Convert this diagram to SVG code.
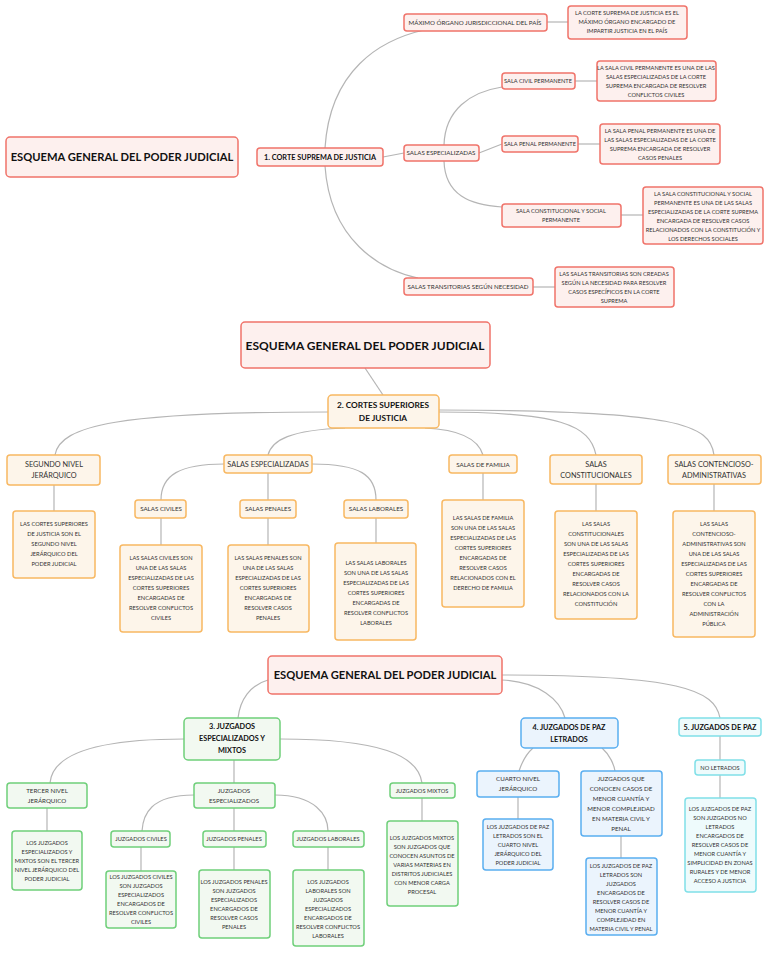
<svg xmlns="http://www.w3.org/2000/svg" width="768" height="953" viewBox="0 0 768 953">
<style>
text{font-family:Lato,"Open Sans","Liberation Sans",sans-serif;fill:#333;text-anchor:middle;font-size:5.7px}
.c path,.c line{fill:none;stroke:#b5b5b5;stroke-width:1.2}
.r{fill:#fdf0ee;stroke:#f0736a;stroke-width:1.5}
.o{fill:#fdf5ea;stroke:#f8b862;stroke-width:1.5}
.g{fill:#f2f9f1;stroke:#6fcf7a;stroke-width:1.5}
.b{fill:#ebf4fd;stroke:#5aaef0;stroke-width:1.5}
.y{fill:#eefbfc;stroke:#80e0e8;stroke-width:1.5}
.t{font-size:11.2px;font-weight:bold;fill:#111}
.m{font-size:7.3px;font-weight:bold;fill:#111}
.n{font-size:6.2px}
.s{font-size:7.3px}
</style>
<rect width="768" height="953" fill="#fff"/>
<g class="c">
<path d="M383,157 L404,153"/>
<path d="M325,148 C330,70 380,40 424,30"/>
<path d="M325,166 C330,240 380,270 418,278"/>
<path d="M547,22 L568,22"/>
<path d="M444,145 C445,110 470,92 502,87"/>
<path d="M479,153 L502,144"/>
<path d="M444,161 C445,195 470,205 502,207"/>
<path d="M575,81 L597,81"/><path d="M578,144 L600,144"/><path d="M621,215 L643,215"/><path d="M533,287 L555,287"/>
<path d="M365,368 L383,395"/>
<path d="M328,412 C120,412 60,425 55,455"/>
<path d="M345,428 C290,430 272,440 268,455"/>
<path d="M425,428 C470,430 480,445 483,455"/>
<path d="M439,412 C560,412 590,425 596,455"/>
<path d="M439,410 C680,410 710,425 714,455"/>
<path d="M224,464 C180,464 161,475 161,500"/>
<path d="M268,473 L268,500"/>
<path d="M312,464 C360,464 376,475 376,500"/>
<path d="M54,485 L54,511"/><path d="M161,518 L161,545"/><path d="M268,518 L268,545"/><path d="M376,518 L376,543"/>
<path d="M483,473 L483,500"/><path d="M596,484 L596,511"/><path d="M714,484 L714,511"/>
<path d="M268,680 C250,685 240,700 238,718"/>
<path d="M502,680 C540,682 560,700 565,718"/>
<path d="M502,675 C680,675 715,690 720,718"/>
<path d="M184,739 C80,739 52,760 50,783"/>
<path d="M234,760 L234,783"/>
<path d="M280,739 C380,739 418,755 422,783"/>
<path d="M194,795 C150,795 143,815 142,831"/>
<path d="M234,808 L234,831"/>
<path d="M275,795 C315,795 328,815 328,831"/>
<path d="M47,808 L47,831"/><path d="M141,847 L141,871"/><path d="M234,847 L234,870"/><path d="M328,847 L328,870"/><path d="M422,798 L422,821"/>
<path d="M533,748 C525,755 521,765 519,771"/>
<path d="M602,748 C610,755 614,765 615,771"/>
<path d="M518,797 L518,819"/><path d="M621,836 L621,858"/>
<path d="M720,736 L720,760"/><path d="M720,775 L720,798"/>
</g>

<g id="root1"><rect class="r" x="6" y="137" width="232" height="40" rx="4"/><text class="t" x="122" y="161">ESQUEMA GENERAL DEL PODER JUDICIAL</text></g>
<g id="cs"><rect class="r" x="257" y="148" width="126" height="18" rx="3"/><text class="m" x="320" y="160">1. CORTE SUPREMA DE JUSTICIA</text></g>
<g id="maximo"><rect class="r" x="404" y="14" width="143" height="17" rx="3"/><text class="n" x="475" y="25">MÁXIMO ÓRGANO JURISDICCIONAL DEL PAÍS</text></g>
<g id="maximo-d"><rect class="r" x="568" y="6" width="119" height="33" rx="3"/><text x="627" y="15">LA CORTE SUPREMA DE JUSTICIA ES EL</text><text x="627" y="24">MÁXIMO ÓRGANO ENCARGADO DE</text><text x="627" y="33">IMPARTIR JUSTICIA EN EL PAÍS</text></g>
<g id="salasesp1"><rect class="r" x="404" y="145" width="75" height="16" rx="3"/><text class="n" x="441" y="155">SALAS ESPECIALIZADAS</text></g>
<g id="civil"><rect class="r" x="502" y="73" width="73" height="16" rx="3"/><text x="538" y="83">SALA CIVIL PERMANENTE</text></g>
<g id="civil-d"><rect class="r" x="597" y="61" width="119" height="40" rx="3"/><text x="656" y="70">LA SALA CIVIL PERMANENTE ES UNA DE LAS</text><text x="656" y="79">SALAS ESPECIALIZADAS DE LA CORTE</text><text x="656" y="88">SUPREMA ENCARGADA DE RESOLVER</text><text x="656" y="97">CONFLICTOS CIVILES</text></g>
<g id="penal"><rect class="r" x="502" y="136" width="76" height="16" rx="3"/><text x="540" y="146">SALA PENAL PERMANENTE</text></g>
<g id="penal-d"><rect class="r" x="600" y="124" width="120" height="40" rx="3"/><text x="660" y="133">LA SALA PENAL PERMANENTE ES UNA DE</text><text x="660" y="142">LAS SALAS ESPECIALIZADAS DE LA CORTE</text><text x="660" y="151">SUPREMA ENCARGADA DE RESOLVER</text><text x="660" y="160">CASOS PENALES</text></g>
<g id="const"><rect class="r" x="502" y="204" width="119" height="23" rx="3"/><text x="561" y="213">SALA CONSTITUCIONAL Y SOCIAL</text><text x="561" y="222">PERMANENTE</text></g>
<g id="const-d"><rect class="r" x="643" y="187" width="120" height="57" rx="3"/><text x="703" y="196">LA SALA CONSTITUCIONAL Y SOCIAL</text><text x="703" y="205">PERMANENTE ES UNA DE LAS SALAS</text><text x="703" y="214">ESPECIALIZADAS DE LA CORTE SUPREMA</text><text x="703" y="223">ENCARGADA DE RESOLVER CASOS</text><text x="703" y="232">RELACIONADOS CON LA CONSTITUCIÓN Y</text><text x="703" y="241">LOS DERECHOS SOCIALES</text></g>
<g id="trans"><rect class="r" x="404" y="278" width="129" height="17" rx="3"/><text class="n" x="468" y="289">SALAS TRANSITORIAS SEGÚN NECESIDAD</text></g>
<g id="trans-d"><rect class="r" x="555" y="267" width="119" height="40" rx="3"/><text x="614" y="276">LAS SALAS TRANSITORIAS SON CREADAS</text><text x="614" y="285">SEGÚN LA NECESIDAD PARA RESOLVER</text><text x="614" y="294">CASOS ESPECÍFICOS EN LA CORTE</text><text x="614" y="303">SUPREMA</text></g>

<g id="root2"><rect class="r" x="241" y="322" width="249" height="46" rx="4"/><text class="t" x="365" y="350" style="font-size:12px">ESQUEMA GENERAL DEL PODER JUDICIAL</text></g>
<g id="cortes"><rect class="o" x="328" y="395" width="111" height="33" rx="4"/><text class="m" x="383" y="408" style="font-size:8.3px">2. CORTES SUPERIORES</text><text class="m" x="383" y="421" style="font-size:8.3px">DE JUSTICIA</text></g>
<g id="segundo"><rect class="o" x="7" y="455" width="93" height="30" rx="3"/><text class="s" x="54" y="467">SEGUNDO NIVEL</text><text class="s" x="54" y="478">JERÁRQUICO</text></g>
<g id="segundo-d"><rect class="o" x="13" y="511" width="82" height="67" rx="3"/><text x="54" y="526">LAS CORTES SUPERIORES</text><text x="54" y="536">DE JUSTICIA SON EL</text><text x="54" y="546">SEGUNDO NIVEL</text><text x="54" y="556">JERÁRQUICO DEL</text><text x="54" y="566">PODER JUDICIAL</text></g>
<g id="salasesp2"><rect class="o" x="224" y="455" width="88" height="18" rx="3"/><text class="s" x="268" y="467">SALAS ESPECIALIZADAS</text></g>
<g id="sciv"><rect class="o" x="135" y="500" width="51" height="18" rx="3"/><text class="n" x="161" y="511">SALAS CIVILES</text></g>
<g id="sciv-d"><rect class="o" x="120" y="545" width="82" height="87" rx="3"/><text x="161" y="560">LAS SALAS CIVILES SON</text><text x="161" y="570">UNA DE LAS SALAS</text><text x="161" y="580">ESPECIALIZADAS DE LAS</text><text x="161" y="590">CORTES SUPERIORES</text><text x="161" y="600">ENCARGADAS DE</text><text x="161" y="610">RESOLVER CONFLICTOS</text><text x="161" y="620">CIVILES</text></g>
<g id="spen"><rect class="o" x="240" y="500" width="56" height="18" rx="3"/><text class="n" x="268" y="511">SALAS PENALES</text></g>
<g id="spen-d"><rect class="o" x="228" y="545" width="81" height="87" rx="3"/><text x="268" y="560">LAS SALAS PENALES SON</text><text x="268" y="570">UNA DE LAS SALAS</text><text x="268" y="580">ESPECIALIZADAS DE LAS</text><text x="268" y="590">CORTES SUPERIORES</text><text x="268" y="600">ENCARGADAS DE</text><text x="268" y="610">RESOLVER CASOS</text><text x="268" y="620">PENALES</text></g>
<g id="slab"><rect class="o" x="344" y="500" width="64" height="18" rx="3"/><text class="n" x="376" y="511">SALAS LABORALES</text></g>
<g id="slab-d"><rect class="o" x="335" y="543" width="81" height="97" rx="3"/><text x="376" y="565">LAS SALAS LABORALES</text><text x="376" y="575">SON UNA DE LAS SALAS</text><text x="376" y="585">ESPECIALIZADAS DE LAS</text><text x="376" y="595">CORTES SUPERIORES</text><text x="376" y="605">ENCARGADAS DE</text><text x="376" y="615">RESOLVER CONFLICTOS</text><text x="376" y="625">LABORALES</text></g>
<g id="sfam"><rect class="o" x="449" y="455" width="68" height="18" rx="3"/><text class="n" x="483" y="467">SALAS DE FAMILIA</text></g>
<g id="sfam-d"><rect class="o" x="442" y="500" width="82" height="107" rx="3"/><text x="483" y="520">LAS SALAS DE FAMILIA</text><text x="483" y="530">SON UNA DE LAS SALAS</text><text x="483" y="540">ESPECIALIZADAS DE LAS</text><text x="483" y="550">CORTES SUPERIORES</text><text x="483" y="560">ENCARGADAS DE</text><text x="483" y="570">RESOLVER CASOS</text><text x="483" y="580">RELACIONADOS CON EL</text><text x="483" y="590">DERECHO DE FAMILIA</text></g>
<g id="scon"><rect class="o" x="550" y="455" width="92" height="29" rx="3"/><text class="s" x="596" y="467">SALAS</text><text class="s" x="596" y="478">CONSTITUCIONALES</text></g>
<g id="scon-d"><rect class="o" x="555" y="511" width="82" height="108" rx="3"/><text x="596" y="526">LAS SALAS</text><text x="596" y="536">CONSTITUCIONALES</text><text x="596" y="546">SON UNA DE LAS SALAS</text><text x="596" y="556">ESPECIALIZADAS DE LAS</text><text x="596" y="566">CORTES SUPERIORES</text><text x="596" y="576">ENCARGADAS DE</text><text x="596" y="586">RESOLVER CASOS</text><text x="596" y="596">RELACIONADOS CON LA</text><text x="596" y="606">CONSTITUCIÓN</text></g>
<g id="scont"><rect class="o" x="668" y="455" width="93" height="29" rx="3"/><text class="s" x="714" y="467">SALAS CONTENCIOSO-</text><text class="s" x="714" y="478">ADMINISTRATIVAS</text></g>
<g id="scont-d"><rect class="o" x="673" y="511" width="82" height="126" rx="3"/><text x="714" y="526">LAS SALAS</text><text x="714" y="536">CONTENCIOSO-</text><text x="714" y="546">ADMINISTRATIVAS SON</text><text x="714" y="556">UNA DE LAS SALAS</text><text x="714" y="566">ESPECIALIZADAS DE LAS</text><text x="714" y="576">CORTES SUPERIORES</text><text x="714" y="586">ENCARGADAS DE</text><text x="714" y="596">RESOLVER CONFLICTOS</text><text x="714" y="606">CON LA</text><text x="714" y="616">ADMINISTRACIÓN</text><text x="714" y="626">PÚBLICA</text></g>

<g id="root3"><rect class="r" x="268" y="656" width="234" height="38" rx="4"/><text class="t" x="385" y="679">ESQUEMA GENERAL DEL PODER JUDICIAL</text></g>
<g id="j3"><rect class="g" x="184" y="718" width="96" height="42" rx="4"/><text class="m" x="232" y="729">3. JUZGADOS</text><text class="m" x="232" y="741">ESPECIALIZADOS Y</text><text class="m" x="232" y="753">MIXTOS</text></g>
<g id="tercer"><rect class="g" x="7" y="783" width="80" height="25" rx="3"/><text class="n" x="47" y="793">TERCER NIVEL</text><text class="n" x="47" y="803">JERÁRQUICO</text></g>
<g id="tercer-d"><rect class="g" x="12" y="831" width="70" height="59" rx="3"/><text x="47" y="845">LOS JUZGADOS</text><text x="47" y="854">ESPECIALIZADOS Y</text><text x="47" y="863">MIXTOS SON EL TERCER</text><text x="47" y="872">NIVEL JERÁRQUICO DEL</text><text x="47" y="881">PODER JUDICIAL</text></g>
<g id="jesp"><rect class="g" x="194" y="783" width="81" height="25" rx="3"/><text class="n" x="234" y="793">JUZGADOS</text><text class="n" x="234" y="803">ESPECIALIZADOS</text></g>
<g id="jciv"><rect class="g" x="111" y="831" width="59" height="16" rx="3"/><text x="141" y="841">JUZGADOS CIVILES</text></g>
<g id="jciv-d"><rect class="g" x="106" y="871" width="70" height="57" rx="3"/><text x="141" y="879">LOS JUZGADOS CIVILES</text><text x="141" y="888">SON JUZGADOS</text><text x="141" y="897">ESPECIALIZADOS</text><text x="141" y="906">ENCARGADOS DE</text><text x="141" y="915">RESOLVER CONFLICTOS</text><text x="141" y="924">CIVILES</text></g>
<g id="jpen"><rect class="g" x="203" y="831" width="63" height="16" rx="3"/><text x="234" y="841">JUZGADOS PENALES</text></g>
<g id="jpen-d"><rect class="g" x="199" y="870" width="71" height="68" rx="3"/><text x="234" y="884">LOS JUZGADOS PENALES</text><text x="234" y="893">SON JUZGADOS</text><text x="234" y="902">ESPECIALIZADOS</text><text x="234" y="911">ENCARGADOS DE</text><text x="234" y="920">RESOLVER CASOS</text><text x="234" y="929">PENALES</text></g>
<g id="jlab"><rect class="g" x="293" y="831" width="71" height="16" rx="3"/><text x="328" y="841">JUZGADOS LABORALES</text></g>
<g id="jlab-d"><rect class="g" x="293" y="870" width="71" height="76" rx="3"/><text x="328" y="884">LOS JUZGADOS</text><text x="328" y="893">LABORALES SON</text><text x="328" y="902">JUZGADOS</text><text x="328" y="911">ESPECIALIZADOS</text><text x="328" y="920">ENCARGADOS DE</text><text x="328" y="929">RESOLVER CONFLICTOS</text><text x="328" y="938">LABORALES</text></g>
<g id="jmix"><rect class="g" x="390" y="783" width="65" height="15" rx="3"/><text x="422" y="793">JUZGADOS MIXTOS</text></g>
<g id="jmix-d"><rect class="g" x="387" y="821" width="71" height="85" rx="3"/><text x="422" y="840">LOS JUZGADOS MIXTOS</text><text x="422" y="849">SON JUZGADOS QUE</text><text x="422" y="858">CONOCEN ASUNTOS DE</text><text x="422" y="867">VARIAS MATERIAS EN</text><text x="422" y="876">DISTRITOS JUDICIALES</text><text x="422" y="885">CON MENOR CARGA</text><text x="422" y="894">PROCESAL</text></g>
<g id="j4"><rect class="b" x="521" y="718" width="97" height="30" rx="4"/><text class="m" x="569" y="730">4. JUZGADOS DE PAZ</text><text class="m" x="569" y="742">LETRADOS</text></g>
<g id="cuarto"><rect class="b" x="477" y="771" width="82" height="26" rx="3"/><text class="n" x="518" y="781">CUARTO NIVEL</text><text class="n" x="518" y="791">JERÁRQUICO</text></g>
<g id="cuarto-d"><rect class="b" x="483" y="819" width="70" height="51" rx="3"/><text x="518" y="829">LOS JUZGADOS DE PAZ</text><text x="518" y="838">LETRADOS SON EL</text><text x="518" y="847">CUARTO NIVEL</text><text x="518" y="856">JERÁRQUICO DEL</text><text x="518" y="865">PODER JUDICIAL</text></g>
<g id="jq"><rect class="b" x="581" y="771" width="81" height="65" rx="3"/><text class="n" x="621" y="781">JUZGADOS QUE</text><text class="n" x="621" y="791">CONOCEN CASOS DE</text><text class="n" x="621" y="801">MENOR CUANTÍA Y</text><text class="n" x="621" y="811">MENOR COMPLEJIDAD</text><text class="n" x="621" y="821">EN MATERIA CIVIL Y</text><text class="n" x="621" y="831">PENAL</text></g>
<g id="jq-d"><rect class="b" x="586" y="858" width="71" height="77" rx="3"/><text x="621" y="868">LOS JUZGADOS DE PAZ</text><text x="621" y="877">LETRADOS SON</text><text x="621" y="886">JUZGADOS</text><text x="621" y="895">ENCARGADOS DE</text><text x="621" y="904">RESOLVER CASOS DE</text><text x="621" y="913">MENOR CUANTÍA Y</text><text x="621" y="922">COMPLEJIDAD EN</text><text x="621" y="931">MATERIA CIVIL Y PENAL</text></g>
<g id="j5"><rect class="y" x="679" y="718" width="82" height="18" rx="3"/><text class="m" x="720" y="730">5. JUZGADOS DE PAZ</text></g>
<g id="noletr"><rect class="y" x="695" y="760" width="50" height="15" rx="3"/><text x="720" y="770">NO LETRADOS</text></g>
<g id="noletr-d"><rect class="y" x="685" y="798" width="71" height="94" rx="3"/><text x="720" y="811">LOS JUZGADOS DE PAZ</text><text x="720" y="820">SON JUZGADOS NO</text><text x="720" y="829">LETRADOS</text><text x="720" y="838">ENCARGADOS DE</text><text x="720" y="847">RESOLVER CASOS DE</text><text x="720" y="856">MENOR CUANTÍA Y</text><text x="720" y="865">SIMPLICIDAD EN ZONAS</text><text x="720" y="874">RURALES Y DE MENOR</text><text x="720" y="883">ACCESO A JUSTICIA</text></g>
</svg>
